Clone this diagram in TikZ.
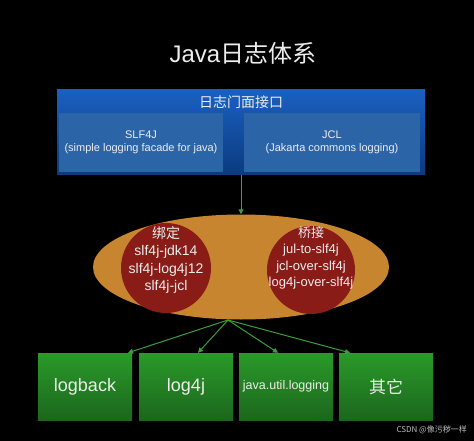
\documentclass[tikz,border=0pt]{standalone}
\usepackage{fontspec}
\setmainfont{Liberation Sans}
\newfontfamily\cjk{Noto Sans CJK SC}
\usetikzlibrary{shapes.geometric,arrows.meta,calc}
\definecolor{blueTop}{HTML}{1A60C0}
\definecolor{blueBot}{HTML}{0B3A80}
\definecolor{innerBlue}{HTML}{2C64A8}
\definecolor{ellOrange}{HTML}{C8852F}
\definecolor{circRed}{HTML}{8A1C18}
\definecolor{greenTop}{HTML}{2A9A2A}
\definecolor{greenBot}{HTML}{1C661C}
\definecolor{arrGreen}{HTML}{3C9E3C}
\definecolor{txt}{HTML}{EDEDED}
\tikzset{
  innerbox/.style={fill=innerBlue, minimum height=59pt, inner sep=0pt, text=txt, align=center, font=\fontsize{11}{13}\selectfont},
  implbox/.style={top color=greenTop, bottom color=greenBot, minimum width=94pt, minimum height=67pt, inner sep=0pt, text=txt},
  redcirc/.style={circle, fill=circRed, inner sep=0pt},
  circtext/.style={text=txt, align=center, inner sep=0pt},
  arr/.style={draw=arrGreen, line width=1pt, -{Triangle[length=5pt,width=5pt]}},
}
\begin{document}
\begin{tikzpicture}[x=1pt,y=-1pt]
\fill[black] (0,0) rectangle (474,441);
\useasboundingbox (0,0) rectangle (474,441);

\node[text=txt, font=\fontsize{24}{26}\selectfont] (title) at (243,53) {Java{\cjk 日志体系}};

\node[top color=blueTop, bottom color=blueBot, minimum width=368pt, minimum height=85pt, inner sep=0pt] (facade) at (241,132.5) {};
\node[text=txt, font=\cjk\fontsize{14}{16}\selectfont] (facadelbl) at (241,102) {日志门面接口};
\node[innerbox, minimum width=164pt] (slf) at (141,142.5) {SLF4J\\(simple logging facade for java)};
\node[innerbox, minimum width=176pt] (jcl) at (332,142.5) {JCL\\(Jakarta commons logging)};

\node[ellipse, fill=ellOrange, minimum width=296pt, minimum height=105pt, inner sep=0pt] (ell) at (241,267) {};
\node[redcirc, minimum size=90pt] (bindc) at (166,268) {};
\node[redcirc, minimum size=88pt] (bridgec) at (311,270) {};
\node[circtext, font=\fontsize{14}{17.5}\selectfont] (bindt) at (166,260) {{\cjk 绑定}\\slf4j-jdk14\\slf4j-log4j12\\slf4j-jcl};
\node[circtext, font=\fontsize{13}{16.3}\selectfont] (bridget) at (311,258) {{\cjk 桥接}\\jul-to-slf4j\\jcl-over-slf4j\\log4j-over-slf4j};

\node[implbox, font=\fontsize{18}{20}\selectfont] (lb) at (85,386.5) {logback};
\node[implbox, font=\fontsize{18}{20}\selectfont] (l4j) at (186,386.5) {log4j};
\node[implbox, font=\fontsize{12.5}{14}\selectfont] (jul) at (286,386.5) {java.util.logging};
\node[implbox, font=\cjk\fontsize{17}{19}\selectfont] (other) at (386,386.5) {其它};

\coordinate (src) at (228,320);
\draw[arr] (facade.south) -- (ell.north);
\draw[arr] (src) -- ($(lb.north)+(43,0)$);
\draw[arr] (src) -- ($(l4j.north)+(12,0)$);
\draw[arr] (src) -- ($(jul.north)+(-8,0)$);
\draw[arr] (src) -- ($(other.north)+(-36,0)$);

\node[text=black!25, font=\cjk\fontsize{8}{9}\selectfont, anchor=east, inner sep=0pt] (wm) at (467,430) {CSDN @像污秽一样};
\end{tikzpicture}
\end{document}
